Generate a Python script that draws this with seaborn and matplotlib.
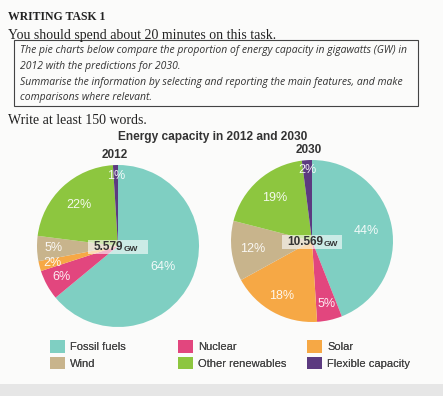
import matplotlib
matplotlib.use("Agg")
import matplotlib.pyplot as plt
import matplotlib.patches as mpatches
import numpy as np
import seaborn as sns

# Data
sources = ["Fossil fuels", "Nuclear", "Solar", "Wind", "Other renewables", "Flexible capacity"]
share_2012 = [64, 6, 2, 5, 22, 1]
share_2030 = [44, 5, 18, 12, 19, 2]
total_2012 = "5.579"
total_2030 = "10.569"

colors = sns.color_palette(["#7fcfc2", "#e2467e", "#f6a845", "#c8b48c", "#8dc63f", "#5c3a80"])

# radial position of each % label (fraction of radius)
lab_r_2012 = [0.62, 0.80, 0.84, 0.80, 0.70, 0.86]
lab_r_2030 = [0.68, 0.80, 0.78, 0.74, 0.70, 0.88]

sns.set_theme(style="white")
plt.rcParams["font.family"] = ["Liberation Sans", "DejaVu Sans"]

W, H = 443, 396
fig = plt.figure(figsize=(W / 100, H / 100), dpi=100)
fig.patch.set_facecolor("#fbfbfa")


def fy(y):
    return 1 - y / H


def fx(x):
    return x / W


# page header text
fig.text(fx(8), fy(17), "WRITING TASK 1", family="Liberation Serif", weight="bold",
         size=8.5, color="#222222", va="center")
fig.text(fx(8), fy(35), "You should spend about 20 minutes on this task.",
         family="Liberation Serif", size=10, color="#222222", va="center")
fig.patches.append(mpatches.Rectangle((fx(14), fy(106)), fx(404), 66 / H, transform=fig.transFigure,
                                      fill=False, edgecolor="#444444", lw=0.8))
box_lines = ["The pie charts below compare the proportion of energy capacity in gigawatts (GW) in",
             "2012 with the predictions for 2030.",
             "Summarise the information by selecting and reporting the main features, and make",
             "comparisons where relevant."]
for i, line in enumerate(box_lines):
    fig.text(fx(20), fy(51 + i * 15.5), line, family="Open Sans", style="italic",
             size=7.5, color="#333333", va="center")
fig.text(fx(8), fy(121), "Write at least 150 words.", family="Liberation Serif",
         size=10, color="#222222", va="center")
fig.text(fx(213), fy(137), "Energy capacity in 2012 and 2030", weight="bold",
         size=8.6, color="#333333", va="center", ha="center")


def draw_pie(cx, cy, r, values, lab_r, year, total):
    ax = fig.add_axes([fx(cx - r), fy(cy + r), 2 * r / W, 2 * r / H])
    wedges, _ = ax.pie(values, colors=colors, startangle=90, counterclock=False,
                       wedgeprops=dict(linewidth=0))
    ax.set_xlim(-1, 1)
    ax.set_ylim(-1, 1)
    ax.set_aspect("equal")
    for w, v, fr in zip(wedges, values, lab_r):
        ang = np.deg2rad((w.theta1 + w.theta2) / 2)
        ax.text(fr * np.cos(ang), fr * np.sin(ang), f"{v}%", color="white",
                size=9, ha="center", va="center", alpha=0.9)
    ax.add_patch(mpatches.Rectangle((-0.37, -0.1), 0.74, 0.17, facecolor="white",
                                    alpha=0.6, lw=0))
    t = ax.text(-0.3, -0.015, total, size=8.5, weight="bold", color="#333333",
                ha="left", va="center")
    ax.annotate("GW", xycoords=t, xy=(1, 0.05), size=6, weight="bold",
                color="#333333", ha="left", va="bottom")
    fig.text(fx(cx - 3), fy(cy - r - 10), year, weight="bold", size=8.5,
             color="#333333", ha="center", va="center")
    return wedges


wedges = draw_pie(118, 246, 81, share_2012, lab_r_2012, "2012", total_2012)
draw_pie(312, 241, 81, share_2030, lab_r_2030, "2030", total_2030)

# legend: three columns of two, as in the reference
columns = [([0, 3], 46), ([1, 4], 174), ([2, 5], 303)]
for idx, x0 in columns:
    leg = fig.legend([wedges[i] for i in idx], [sources[i] for i in idx],
                     loc="upper left", bbox_to_anchor=(fx(x0), fy(336)), frameon=False,
                     handlelength=1.3, handleheight=1.3, handletextpad=0.5,
                     labelspacing=0.4, fontsize=8, labelcolor="#444444",
                     borderaxespad=0)
    fig.add_artist(leg)

# page edge at the bottom
fig.patches.append(mpatches.Rectangle((0, 0), 1, fy(384), transform=fig.transFigure,
                                      facecolor="#e6e6e6", lw=0))

fig.savefig("out.png", dpi=100)
